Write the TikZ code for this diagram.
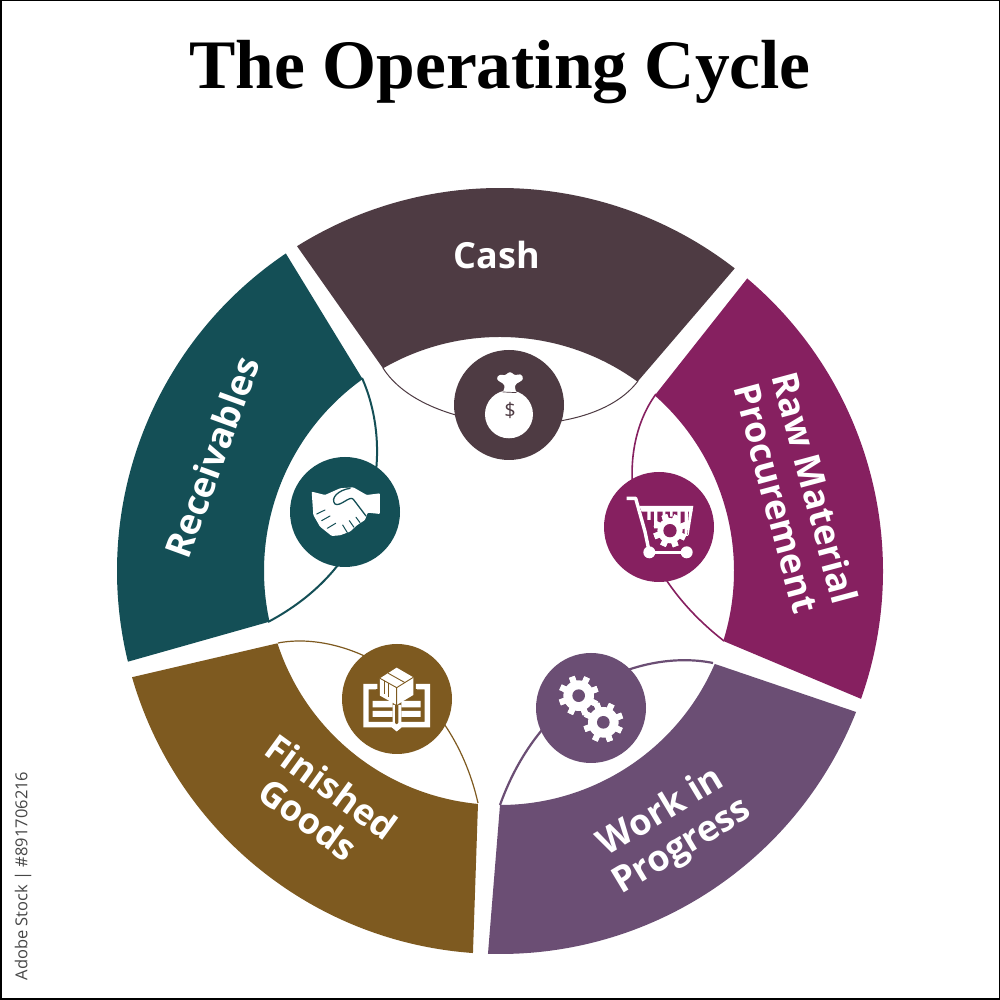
\documentclass[tikz,border=0pt]{standalone}
\usepackage{fontspec}
\usetikzlibrary{calc}
\setmainfont{Liberation Serif}
\newfontfamily\lblf{Open Sans}
\newfontfamily\stockf{Open Sans}
\definecolor{cashc}{HTML}{4E3B43}
\definecolor{rawc}{HTML}{862060}
\definecolor{workc}{HTML}{6B4E74}
\definecolor{goodsc}{HTML}{7E5A20}
\definecolor{recc}{HTML}{144F56}
\tikzset{
  seglabel/.style={text=white,align=center,font=\lblf\bfseries\fontsize{36}{40}\selectfont,inner sep=0pt},
  iconbg/.style={circle,minimum size=110pt,inner sep=0pt},
  thinarc/.style={line width=#1},
  zoomgrid/.style={x=0.3333pt,y=-0.3333pt}
}
\newcommand{\mygear}[6]{% x,y,R body,R tip,hole,colour
  \fill[white] (#1,#2) circle (#3);
  \foreach \a in {0,45,...,315}{
    \fill[white,rotate around={\a+20:(#1,#2)}] ($(#1,#2)+(-9,-#4)$) rectangle ($(#1,#2)+(9,#4)$);
  }
  \fill[#6] (#1,#2) circle (#5);
}
\begin{document}
\begin{tikzpicture}[x=1pt,y=1pt]
\useasboundingbox (0,0) rectangle (1000,1000);
\fill[white] (0,0) rectangle (1000,1000);
\draw[black,line width=1.5pt] (0.75,0.75) rectangle (999.25,999.25);
\coordinate (c) at (500,429);
\node[font=\bfseries\fontsize{69.5}{72}\selectfont,inner sep=0pt] (title) at (500,928) {The Operating Cycle};
% segments
\fill[cashc] ($(c)+(122:383)$) arc[start angle=122,end angle=52.2,radius=383] -- ($(c)+(54:234)$) arc[start angle=54,end angle=120,radius=234] -- cycle;
\fill[rawc] ($(c)+(49.8:383)$) arc[start angle=49.8,end angle=-19.5,radius=383] -- ($(c)+(-17.4:234)$) arc[start angle=-17.4,end angle=48.6,radius=234] -- cycle;
\fill[workc] ($(c)+(-21.6:383)$) arc[start angle=-21.6,end angle=-91.8,radius=383] -- ($(c)+(-90:234)$) arc[start angle=-90,end angle=-23.4,radius=234] -- cycle;
\fill[goodsc] ($(c)+(265.95:383)$) arc[start angle=265.95,end angle=196.1,radius=383] -- ($(c)+(198:234)$) arc[start angle=198,end angle=264.6,radius=234] -- cycle;
\fill[recc] ($(c)+(193.7:383)$) arc[start angle=193.7,end angle=124,radius=383] -- ($(c)+(125.6:236)$) arc[start angle=125.6,end angle=192.4,radius=236] -- cycle;
% corners for thin arcs
\coordinate (ca) at (383,632); \coordinate (cb) at (638,619);
\coordinate (ra) at (656,606); \coordinate (rb) at (724,359);
\coordinate (wa) at (713,337); \coordinate (wb) at (500,195);
\coordinate (ga) at (278,357); \coordinate (gb) at (478,197);
\coordinate (ka) at (362,622); \coordinate (kb) at (268,378);
% thin arcs
\draw[cashc,thinarc=1pt] (ca) .. controls (425,565) and (590,555) .. (cb);
\draw[rawc,thinarc=1.6pt] (ra) .. controls (615,550) and (620,440) .. (rb);
\draw[workc,thinarc=2.2pt] (wa) .. controls (650,350) and (545,320) .. (wb);
\draw[goodsc,thinarc=1.2pt] (ga) .. controls (345,370) and (450,320) .. (gb);
\draw[recc,thinarc=2pt] (ka) .. controls (392,555) and (385,440) .. (kb);
% icon discs
\node[iconbg,fill=cashc] (icash) at (509,595) {};
\node[iconbg,fill=rawc] (iraw) at (659,473) {};
\node[iconbg,fill=workc] (iwork) at (591,292) {};
\node[iconbg,fill=goodsc] (igoods) at (397,301) {};
\node[iconbg,fill=recc] (irec) at (345,488) {};
% labels
\node[seglabel] (lcash) at (497,745) {Cash};
\node[seglabel,rotate=-75] (lraw) at (796,507) {Raw Material\\Procurement};
\node[seglabel,rotate=31] (lwork) at (672,170) {Work in\\Progress};
\node[seglabel,rotate=-36] (lgoods) at (320,197) {Finished\\Goods};
\node[seglabel,rotate=70] (lrec) at (212,543) {Receivables};
\node[rotate=90,text=black!72,font=\stockf\fontsize{16.5}{18}\selectfont,inner sep=0pt] (stock) at (23,124) {Adobe Stock | \#891706216};
% money bag icon (zoom origin 270,170)
\begin{scope}[shift={(270,830)},zoomgrid]
  \fill[white] (717,733) circle (72);
  \fill[white,rounded corners=3pt] (695,680) -- (742,680) -- (733,645) -- (762,628) -- (752,610) -- (735,618) -- (720,603) -- (705,618) -- (688,612) -- (678,628) -- (706,645) -- cycle;
  \draw[cashc,line width=.7pt] (698,666) -- (740,668);
  \node[text=cashc,font=\stockf\fontsize{20}{20}\selectfont,inner sep=0pt] at (720,722) {\$};
\end{scope}
% handshake icon (zoom origin 270,430)
\begin{scope}[shift={(270,570)},zoomgrid]
  \fill[white,rounded corners=1pt] (125,185) -- (165,195) -- (210,175) -- (250,172) -- (290,195) -- (330,190) -- (330,252) -- (293,248) -- (285,270) -- (262,285) -- (240,305) -- (210,316) -- (185,318) -- (150,290) -- (130,255) -- cycle;
  \draw[recc,line width=1.3pt,line cap=round] (240,175) .. controls (205,180) and (180,205) .. (195,222) .. controls (210,232) and (240,195) .. (250,208) -- (288,258);
  \draw[recc,line width=1pt,line cap=round] (258,262) -- (270,278) (238,272) -- (252,292) (218,285) -- (232,308);
  \draw[recc,line width=1pt,line cap=round] (140,252) -- (165,240) (155,272) -- (180,258) (172,295) -- (197,280);
\end{scope}
% cart icon (zoom origin 590,460)
\begin{scope}[shift={(590,540)},zoomgrid]
  \draw[white,line width=3.4pt,line join=round] (110,115) -- (137,115) -- (165,215) -- (178,277);
  \draw[white,line width=3pt] (178,277) -- (290,277);
  \fill[white] (178,277) circle (18) (290,277) circle (18);
  \fill[white] (148,138) -- (310,138) -- (307,155) -- (155,155) -- cycle;
  \fill[white] (172,150) rectangle (182,180) (192,150) rectangle (202,205)
    (218,150) rectangle (226,180) (240,150) rectangle (248,170) (262,150) rectangle (272,190)
    (284,150) rectangle (294,228) (298,150) -- (308,150) -- (296,225) -- (292,225) -- cycle;
  \mygear{240}{212}{38}{50}{20}{rawc}
\end{scope}
% gears icon (zoom origin 480,640)
\begin{scope}[shift={(480,360)},zoomgrid]
  \mygear{296}{167}{46}{60}{19}{workc}
  \mygear{370}{247}{46}{60}{19}{workc}
\end{scope}
% goods icon (zoom origin 260,630)
\begin{scope}[shift={(260,370)},zoomgrid]
  \draw[white,line width=5.4pt,line join=miter] (352,170) -- (318,170) -- (318,284) -- (398,284) -- (410,294) -- (422,284) -- (502,284) -- (502,170) -- (468,170);
  \fill[white] (338,213) rectangle (398,232) (338,243) rectangle (398,261) (424,213) rectangle (482,232) (424,243) rectangle (482,261);
  \fill[white] (398,225) rectangle (405,285) (415,225) rectangle (424,285);
  \fill[goodsc] (348,178) rectangle (362,210);
  \fill[goodsc] (458,178) rectangle (472,210);
  \fill[white] (410,113) -- (460,142) -- (460,195) -- (410,225) -- (360,197) -- (360,145) -- cycle;
  \draw[goodsc,line width=.9pt] (360,145) -- (410,173) -- (460,142) (410,173) -- (410,225);
  \draw[goodsc,line width=.9pt] (385,130) -- (435,158);
  \draw[goodsc,line width=.9pt] (372,153) -- (372,193) (386,160) -- (386,200);
\end{scope}
\end{tikzpicture}
\end{document}
